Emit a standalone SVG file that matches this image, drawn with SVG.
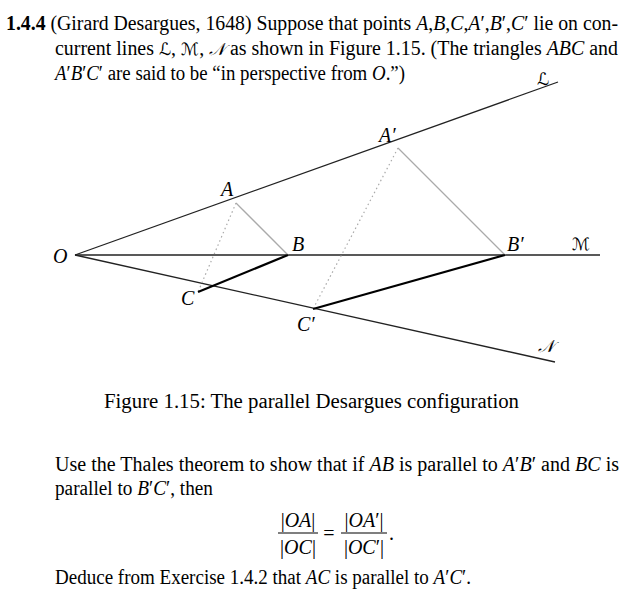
<svg xmlns="http://www.w3.org/2000/svg" width="624" height="593" viewBox="0 0 624 593">
<style>
text{font-family:"Liberation Serif",serif;font-size:20px;fill:#000}
.i{font-style:italic}
.s{font-family:"DejaVu Serif","DejaVu Sans",serif;font-style:italic;font-size:17px}
.ln{stroke:#222;stroke-width:1.3;fill:none}
.g{stroke:#aaa;stroke-width:1.3;fill:none}
.d{stroke:#aaa;stroke-width:1.2;stroke-dasharray:1.5 3;fill:none}
.k{stroke:#000;stroke-width:2.2;fill:none}
</style>
<rect width="624" height="593" fill="#fff"/>
<text x="6" y="30" textLength="612" lengthAdjust="spacingAndGlyphs"><tspan font-weight="bold">1.4.4</tspan> (Girard Desargues, 1648) Suppose that points <tspan class="i">A</tspan>,<tspan class="i">B</tspan>,<tspan class="i">C</tspan>,<tspan class="i">A</tspan>′,<tspan class="i">B</tspan>′,<tspan class="i">C</tspan>′ lie on con-</text>
<text x="55" y="55" textLength="563" lengthAdjust="spacingAndGlyphs">current lines <tspan class="s">ℒ</tspan>, <tspan class="s">ℳ</tspan>, <tspan class="s">𝒩</tspan> as shown in Figure 1.15. (The triangles <tspan class="i">ABC</tspan> and</text>
<text x="55" y="80" textLength="350" lengthAdjust="spacingAndGlyphs"><tspan class="i">A</tspan>′<tspan class="i">B</tspan>′<tspan class="i">C</tspan>′ are said to be “in perspective from <tspan class="i">O</tspan>.”)</text>
<g id="connectors">
<line class="ln" x1="75" y1="255" x2="558" y2="82"/>
<line class="ln" x1="75" y1="255" x2="600" y2="255"/>
<line class="ln" x1="75" y1="255" x2="555" y2="362"/>
<line class="g" x1="236" y1="203" x2="288" y2="255"/>
<line class="g" x1="398" y1="148" x2="505" y2="255"/>
<line class="d" x1="236" y1="203" x2="198" y2="292"/>
<line class="d" x1="398" y1="148" x2="313" y2="309"/>
<line class="k" x1="198" y1="292" x2="288" y2="255"/>
<line class="k" x1="313" y1="309" x2="505" y2="255"/>
</g>
<g id="O"><text class="i" x="53" y="263">O</text></g>
<g id="A"><text class="i" x="221" y="196">A</text></g>
<g id="B"><text class="i" x="292" y="251">B</text></g>
<g id="A2"><text class="i" x="379" y="142">A′</text></g>
<g id="B2"><text class="i" x="507" y="251">B′</text></g>
<g id="C"><text class="i" x="181" y="305">C</text></g>
<g id="C2"><text class="i" x="297" y="331">C′</text></g>
<g id="L"><text class="s" x="537" y="85">ℒ</text></g>
<g id="M"><text class="s" x="572" y="250">ℳ</text></g>
<g id="N"><text class="s" x="538" y="352">𝒩</text></g>
<text x="104" y="408" textLength="415" lengthAdjust="spacingAndGlyphs">Figure 1.15: The parallel Desargues configuration</text>
<text x="55" y="471" textLength="564" lengthAdjust="spacingAndGlyphs">Use the Thales theorem to show that if <tspan class="i">AB</tspan> is parallel to <tspan class="i">A</tspan>′<tspan class="i">B</tspan>′ and <tspan class="i">BC</tspan> is</text>
<text x="55" y="495" textLength="158" lengthAdjust="spacingAndGlyphs">parallel to <tspan class="i">B</tspan>′<tspan class="i">C</tspan>′, then</text>
<text x="298" y="527" text-anchor="middle">|<tspan class="i">OA</tspan>|</text>
<text x="298" y="554" text-anchor="middle">|<tspan class="i">OC</tspan>|</text>
<line x1="278" y1="533" x2="318" y2="533" stroke="#000" stroke-width="1.2"/>
<text x="329" y="540" text-anchor="middle">=</text>
<text x="364" y="527" text-anchor="middle">|<tspan class="i">OA</tspan>′|</text>
<text x="364" y="554" text-anchor="middle">|<tspan class="i">OC</tspan>′|</text>
<line x1="341" y1="533" x2="387" y2="533" stroke="#000" stroke-width="1.2"/>
<text x="389" y="540">.</text>
<text x="55" y="584" textLength="416" lengthAdjust="spacingAndGlyphs">Deduce from Exercise 1.4.2 that <tspan class="i">AC</tspan> is parallel to <tspan class="i">A</tspan>′<tspan class="i">C</tspan>′.</text>
</svg>
